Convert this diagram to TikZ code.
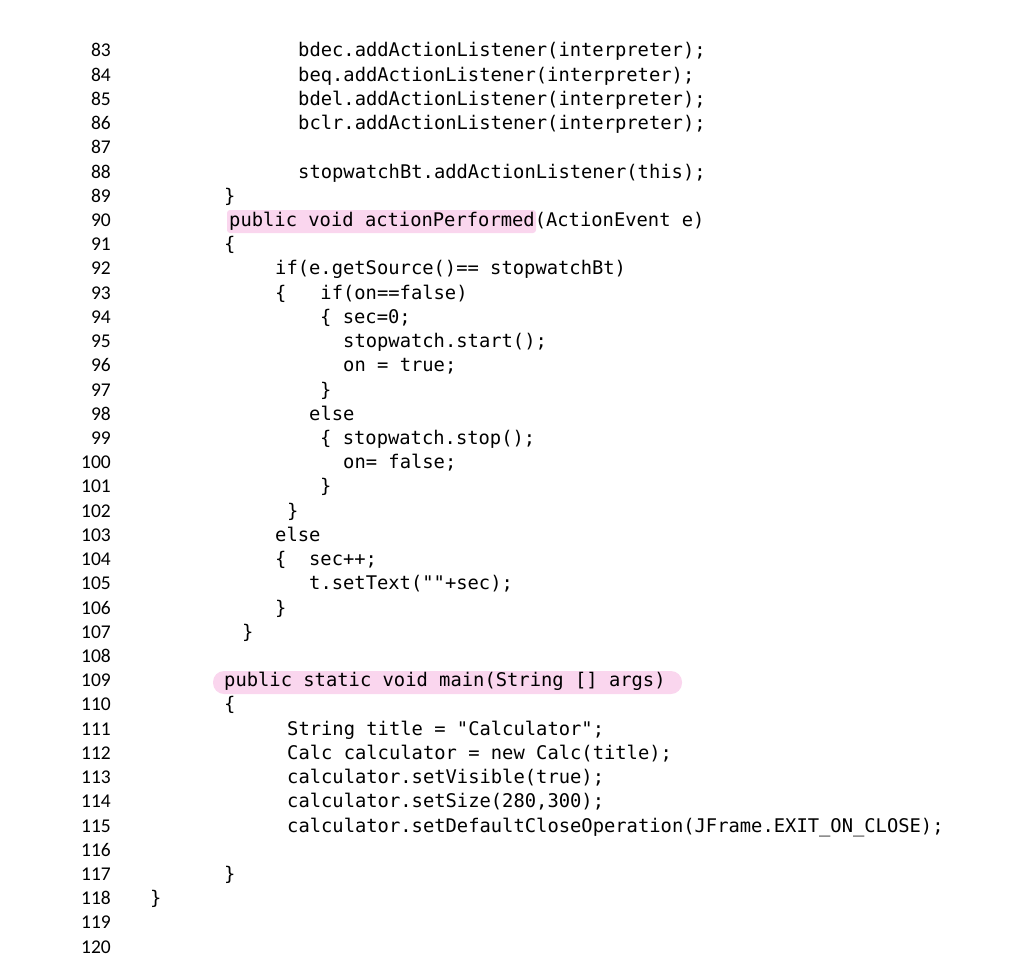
\documentclass[tikz,border=0pt]{standalone}
\usepackage{fontspec}
\setmainfont{Carlito}
\newfontfamily\codefont{DejaVu Sans Mono}
\definecolor{hl}{HTML}{FAD6EE}
\tikzset{
  num/.style={anchor=base east,inner sep=0pt,font=\fontsize{19.5}{20}\selectfont},
  code/.style={anchor=base west,inner sep=0pt,font=\codefont\fontsize{18.8}{20}\selectfont}
}
\newcommand{\yb}[1]{\fpeval{-(57+(#1-83)*24.22)}}
\newcommand{\cl}[3]{\node[code] (c#1) at (#2pt,\yb{#1}pt) {#3};}
\begin{document}
\begin{tikzpicture}[x=1pt,y=1pt]
\useasboundingbox (0,0) rectangle (1024,-979);
\fill[hl,rounded corners=3pt] (227,-210) rectangle (536,-233);
\fill[hl,rounded corners=11pt] (213,-671) rectangle (682,-694);
\foreach \n in {83,...,120}{\node[num] (n\n) at (111,{-(57+(\n-83)*24.22)}) {\n};}
\cl{83}{298}{bdec.addActionListener(interpreter);}
\cl{84}{298}{beq.addActionListener(interpreter);}
\cl{85}{298}{bdel.addActionListener(interpreter);}
\cl{86}{298}{bclr.addActionListener(interpreter);}
\cl{88}{298}{stopwatchBt.addActionListener(this);}
\cl{89}{224}{\}}
\cl{90}{229}{public void actionPerformed(ActionEvent e)}
\cl{91}{224}{\{}
\cl{92}{275}{if(e.getSource()==\ stopwatchBt)}
\cl{93}{275}{\{\ \ \ if(on==false)}
\cl{94}{320}{\{ sec=0;}
\cl{95}{343}{stopwatch.start();}
\cl{96}{343}{on = true;}
\cl{97}{320}{\}}
\cl{98}{309}{else}
\cl{99}{320}{\{ stopwatch.stop();}
\cl{100}{343}{on= false;}
\cl{101}{320}{\}}
\cl{102}{287}{\}}
\cl{103}{275}{else}
\cl{104}{275}{\{\ \ sec++;}
\cl{105}{309}{t.setText(""+sec);}
\cl{106}{275}{\}}
\cl{107}{242}{\}}
\cl{109}{224}{public static void main(String [] args)}
\cl{110}{224}{\{}
\cl{111}{287}{String title = "Calculator";}
\cl{112}{287}{Calc calculator = new Calc(title);}
\cl{113}{287}{calculator.setVisible(true);}
\cl{114}{287}{calculator.setSize(280,300);}
\cl{115}{287}{calculator.setDefaultCloseOperation(JFrame.EXIT\_ON\_CLOSE);}
\cl{117}{224}{\}}
\cl{118}{150}{\}}
\end{tikzpicture}
\end{document}
